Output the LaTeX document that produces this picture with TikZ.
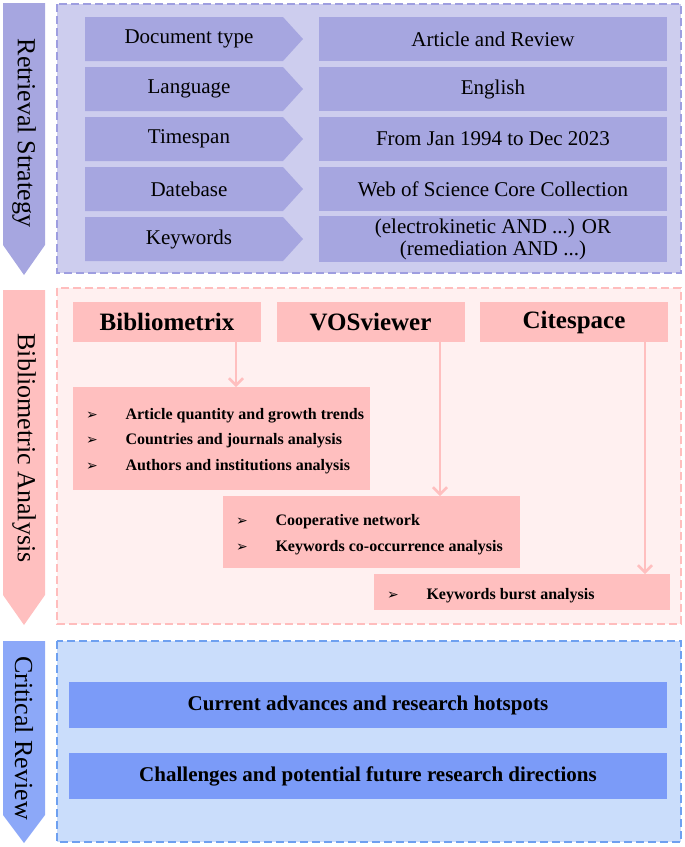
\documentclass[tikz,border=0pt]{standalone}
\usepackage{fontspec}
\setmainfont{Liberation Serif}
\newfontfamily\dvfont{DejaVu Sans}
\usetikzlibrary{arrows.meta}
\definecolor{lavbg}{HTML}{CDCDEE}
\definecolor{lavbd}{HTML}{9E9EE0}
\definecolor{lavfill}{HTML}{A6A6E0}
\definecolor{pinkbg}{HTML}{FFF0F0}
\definecolor{pinkbd}{HTML}{FFBDBD}
\definecolor{pinkfill}{HTML}{FFBFBF}
\definecolor{bluebg}{HTML}{CADDFB}
\definecolor{bluebd}{HTML}{6EA0F0}
\definecolor{bluefill}{HTML}{7B9BF8}
\definecolor{blueside}{HTML}{8CA8F8}
\begin{document}
\begin{tikzpicture}[x=1pt,y=-1pt,
  panel/.style={line width=2.5pt,dash pattern=on 8pt off 4pt},
  sidetext/.style={rotate=-90,font=\fontsize{26}{30}\selectfont},
  cell/.style={fill=lavfill,draw=none,minimum height=44pt,inner sep=2pt,align=center,font=\fontsize{21}{22}\selectfont},
  tool/.style={fill=pinkfill,minimum width=188pt,minimum height=40pt,font=\bfseries\fontsize{25}{28}\selectfont},
  lst/.style={fill=pinkfill,anchor=north west,inner sep=0pt},
  bul/.style={font=\dvfont\fontsize{14}{16}\selectfont},
  itm/.style={anchor=west,font=\bfseries\fontsize{16}{18}\selectfont},
  arr/.style={pinkfill,line width=2.5pt,-{Straight Barb[length=7pt,width=14pt]}},
  bar/.style={fill=bluefill,minimum width=598pt,minimum height=46pt,font=\bfseries\fontsize{21}{24}\selectfont}]
\useasboundingbox (0,0) rectangle (685,847);
% side arrows
\fill[lavfill] (3,3) -- (45,3) -- (45,245) -- (24,275) -- (3,245) -- cycle;
\node[sidetext] (s1) at (24,133) {Retrieval Strategy};
\fill[pinkfill] (3,290) -- (45,290) -- (45,595) -- (24,625) -- (3,595) -- cycle;
\node[sidetext] (s2) at (24,448) {Bibliometric Analysis};
\fill[blueside] (3,641) -- (45,641) -- (45,815) -- (24,843) -- (3,815) -- cycle;
\node[sidetext] (s3) at (24,738) {Critical Review};
% panels
\draw[panel,draw=lavbd,fill=lavbg] (57,4) rectangle (681,273);
\draw[panel,draw=pinkbd,fill=pinkbg] (57,288) rectangle (681,624);
\draw[panel,draw=bluebd,fill=bluebg] (57,641) rectangle (681,842);
% retrieval rows
\foreach \y/\a/\b [count=\i] in {17/Document type/Article and Review,67/Language/English,117/Timespan/From Jan 1994 to Dec 2023,167/Datebase/Web of Science Core Collection,217/Keywords/{(electrokinetic AND ...) OR\\(remediation AND ...)}}{
  \fill[lavfill] (85,\y) -- (283,\y) -- (303,\y+22) -- (283,\y+44) -- (85,\y+44) -- cycle;
  \node[font=\fontsize{21}{22}\selectfont] (l\i) at (189,\y+22) {\a};
  \node[cell,minimum width=348pt] (r\i) at (493,\y+22) {\b};
}
% tools
\node[tool] (bib) at (167,322) {Bibliometrix};
\node[tool] (vos) at (370.5,322) {VOSviewer};
\node[tool] (cite) at (574,322) {Citespace};
\node[lst,minimum width=297pt,minimum height=103pt] (L1) at (73,387) {};
\node[lst,minimum width=297pt,minimum height=72pt] (L2) at (223,496) {};
\node[lst,minimum width=296pt,minimum height=36pt] (L3) at (374,574) {};
\foreach \t/\y [count=\i] in {Article quantity and growth trends/416,Countries and journals analysis/441,Authors and institutions analysis/467}{
  \node[bul] (b1\i) at (92,\y) {➢};
  \node[itm] (t1\i) at (122,\y) {\t};}
\foreach \t/\y [count=\i] in {Cooperative network/522,Keywords co-occurrence analysis/548}{
  \node[bul] (b2\i) at (242,\y) {➢};
  \node[itm] (t2\i) at (272,\y) {\t};}
\node[bul] (b31) at (393,596) {➢};
\node[itm] (t31) at (423,596) {Keywords burst analysis};
\draw[arr] (bib.south -| 236,0) -- (L1.north -| 236,0);
\draw[arr] (vos.south -| 440,0) -- (L2.north -| 440,0);
\draw[arr] (cite.south -| 645,0) -- (L3.north -| 645,0);
% critical review
\node[bar] (c1) at (368,705) {Current advances and research hotspots};
\node[bar] (c2) at (368,776) {Challenges and potential future research directions};
\end{tikzpicture}
\end{document}
